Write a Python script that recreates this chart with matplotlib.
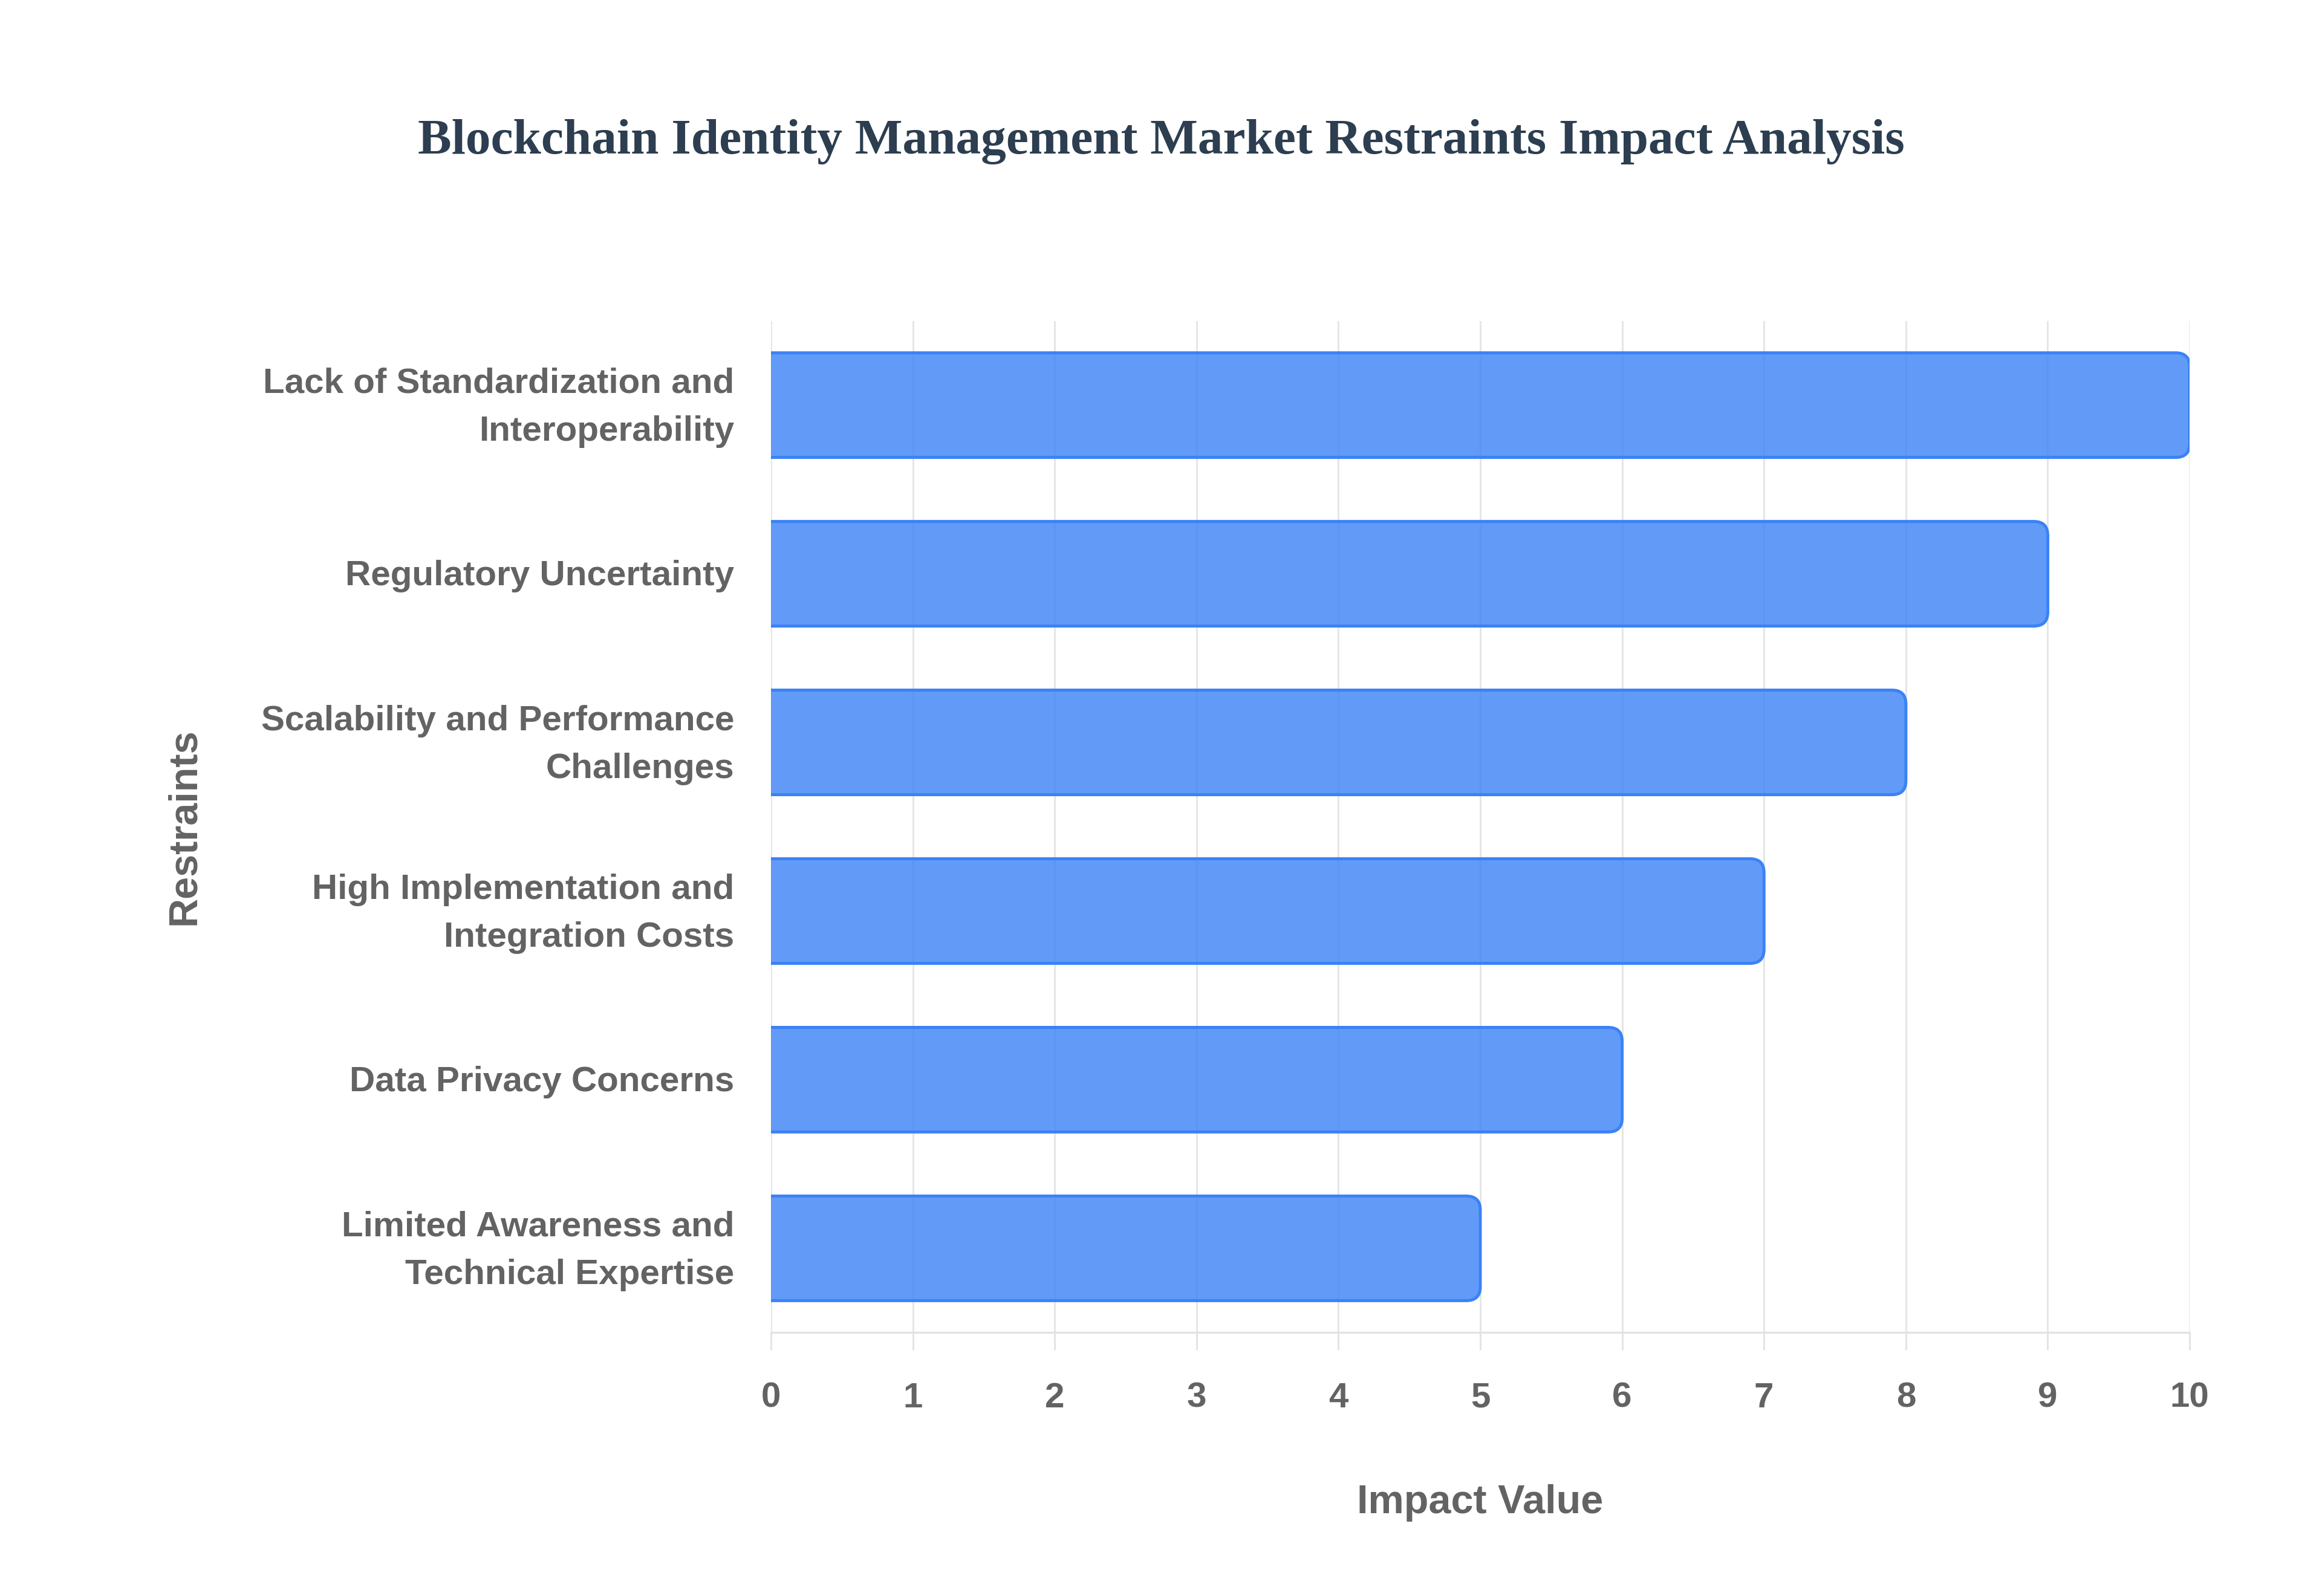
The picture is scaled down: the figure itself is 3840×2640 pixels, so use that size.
import matplotlib
matplotlib.use("Agg")
import matplotlib.pyplot as plt
import matplotlib.transforms as mtransforms
from matplotlib.path import Path
from matplotlib.patches import PathPatch

restraints = [
    "Lack of Standardization and\nInteroperability",
    "Regulatory Uncertainty",
    "Scalability and Performance\nChallenges",
    "High Implementation and\nIntegration Costs",
    "Data Privacy Concerns",
    "Limited Awareness and\nTechnical Expertise",
]
impact = [10, 9, 8, 7, 6, 5]
x_ticks = [0, 1, 2, 3, 4, 5, 6, 7, 8, 9, 10]

title = "Blockchain Identity Management Market Restraints Impact Analysis"
text_gray = "#636363"
bar_fill = (59 / 255, 130 / 255, 246 / 255, 0.8)
bar_edge = "#3B82F6"

fig = plt.figure(figsize=(12.8, 8.8), dpi=300)
ax = fig.add_axes([0.332, 0.165, 0.611, 0.634])

ax.set_xlim(0, 10)
ax.set_ylim(len(restraints) - 0.5, -0.5)

# corner radius in data units (about 23 px at full size)
pos = ax.get_position()
ax_w_px = pos.width * fig.get_figwidth() * fig.dpi
ax_h_px = pos.height * fig.get_figheight() * fig.dpi
rx = 23 * 10 / ax_w_px
ry = 23 * len(restraints) / ax_h_px

h = 0.62
for i, v in enumerate(impact):
    y0, y1 = i - h / 2, i + h / 2
    verts = [(0, y0), (v - rx, y0), (v, y0), (v, y0 + ry),
             (v, y1 - ry), (v, y1), (v - rx, y1), (0, y1)]
    codes = [Path.MOVETO, Path.LINETO, Path.CURVE3, Path.CURVE3,
             Path.LINETO, Path.CURVE3, Path.CURVE3, Path.LINETO]
    ax.add_patch(PathPatch(Path(verts, codes), facecolor=bar_fill,
                           edgecolor=bar_edge, linewidth=1.2, zorder=3))

# category labels: drawn as text at the tick positions so they can be nudged
ax.set_yticks(range(len(restraints)))
ax.set_yticklabels([])
label_tr = ax.get_yaxis_transform() + mtransforms.ScaledTranslation(
    -14.6 / 72, -1.0 / 72, fig.dpi_scale_trans)
for i, name in enumerate(restraints):
    ax.text(0, i, name, transform=label_tr, ha="right", va="center",
            multialignment="right", linespacing=1.6, fontsize=14,
            fontweight="bold", color=text_gray, fontfamily="Liberation Sans")

ax.set_xticks(x_ticks)
for lab in ax.get_xticklabels():
    lab.set_fontfamily("Liberation Sans")
    lab.set_fontweight("bold")
    lab.set_color(text_gray)
    lab.set_fontsize(14)

ax.tick_params(axis="y", length=0)
ax.tick_params(axis="x", length=7, width=0.7, color="#E3E3E3", pad=12.5)

ax.grid(axis="x", color="#E5E5E5", linewidth=0.7)
ax.set_axisbelow(True)
for s in ["top", "right", "left"]:
    ax.spines[s].set_visible(False)
ax.spines["bottom"].set_color("#E3E3E3")
ax.spines["bottom"].set_linewidth(0.8)

ax.set_xlabel("Impact Value", fontsize=16, fontweight="bold", color=text_gray,
              fontfamily="Liberation Sans", va="center")
ax.xaxis.set_label_coords(0.5, -0.168)
ax.set_ylabel("Restraints", fontsize=16, fontweight="bold", color=text_gray,
              fontfamily="Liberation Sans", va="center")
ax.yaxis.set_label_coords(-0.4135, 0.5)

fig.text(0.5, 0.911, title, ha="center", va="center", fontsize=20,
         fontweight="bold", color="#2C3E50", fontfamily="Liberation Serif")

fig.savefig("out.png", dpi=300, facecolor="white")
